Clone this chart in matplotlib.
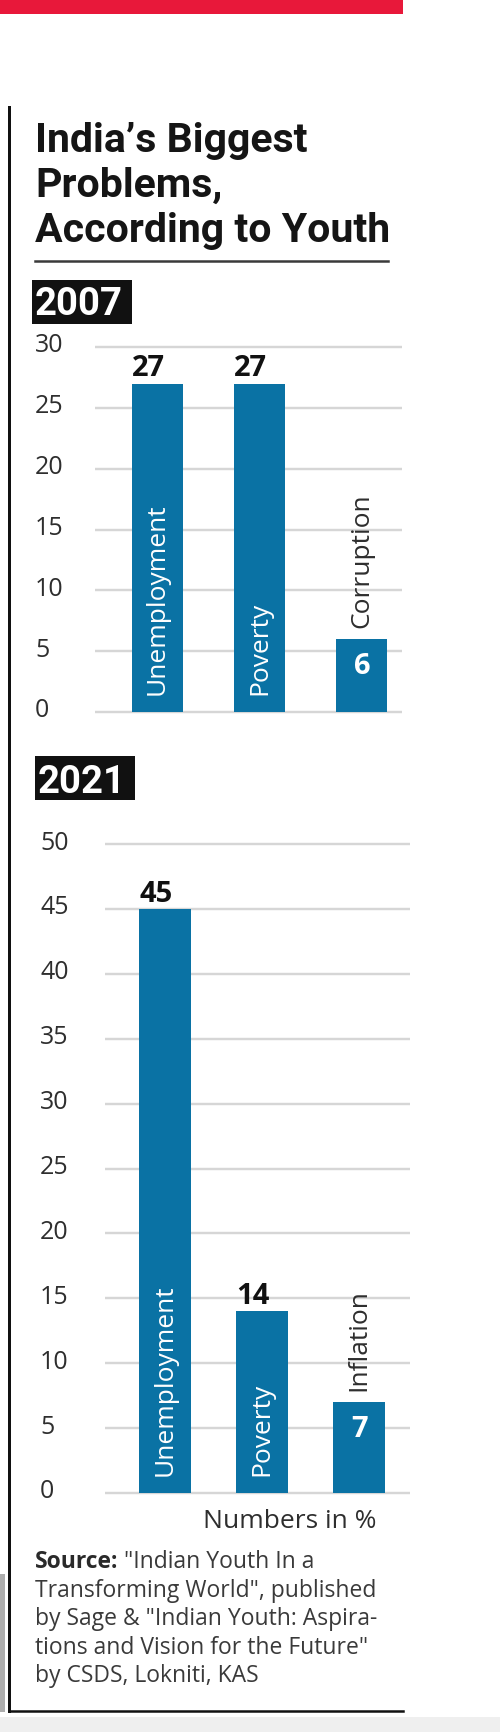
import matplotlib
matplotlib.use("Agg")
import matplotlib.pyplot as plt
from matplotlib.transforms import Affine2D, ScaledTranslation
from matplotlib.patches import Rectangle
from matplotlib.lines import Line2D

# ---------------- data ----------------
title_lines = ["India\u2019s Biggest", "Problems,", "According to Youth"]

year_a = "2007"
cats_a = ["Unemployment", "Poverty", "Corruption"]
vals_a = [27, 27, 6]
ticks_a = [0, 5, 10, 15, 20, 25, 30]

year_b = "2021"
cats_b = ["Unemployment", "Poverty", "Inflation"]
vals_b = [45, 14, 7]
ticks_b = [0, 5, 10, 15, 20, 25, 30, 35, 40, 45, 50]

unit_note = "Numbers in %"
source_head = "Source:"
source_first = " \"Indian Youth In a"
source_rest = [
    "Transforming World\", published",
    "by Sage & \"Indian Youth: Aspira-",
    "tions and Vision for the Future\"",
    "by CSDS, Lokniti, KAS",
]

# ---------------- layout / style ----------------
W, H, DPI = 500, 1733, 100
fig = plt.figure(figsize=(W / DPI, H / DPI), dpi=DPI)
fig.patch.set_facecolor("white")
PX = Affine2D().scale(1 / W, -1 / H).translate(0, 1) + fig.transFigure


def pt(px):
    return px * 72.0 / DPI


BODY = ["Open Sans", "DejaVu Sans"]
HEAD = ["Roboto", "DejaVu Sans"]
BAR = "#0a72a4"
TXT = "#2e2e2e"
GRID = "#d6d6d6"


def panel(vals, cats, ticks, left, right, y0, ytop, c0, step, barw, label_x):
    vmax = ticks[-1]
    ppu = (y0 - ytop) / vmax
    lo, hi = -1.4, vmax + 1.3
    bottom = y0 - lo * ppu
    top = ytop - (hi - vmax) * ppu
    ax = fig.add_axes([left / W, 1 - bottom / H, (right - left) / W, (bottom - top) / H])
    ax.set_ylim(lo, hi)
    ax.set_xlim((left - c0) / step, (right - c0) / step)
    ax.patch.set_alpha(0)
    for s in ax.spines.values():
        s.set_visible(False)
    ax.set_xticks([])
    ax.set_yticks(ticks)
    ax.set_yticklabels([str(t) for t in ticks], fontfamily=BODY, ha="left")
    ax.tick_params(axis="y", length=0, pad=pt(left - label_x), labelsize=18, labelcolor=TXT)
    for t in ax.yaxis.get_major_ticks():
        t.label1.set_transform(t.label1.get_transform()
                               + ScaledTranslation(0, 5 / DPI, fig.dpi_scale_trans))
    ax.grid(axis="y", color=GRID, lw=pt(2.4))
    ax.set_axisbelow(True)

    xs = list(range(len(vals)))
    bars = ax.bar(xs, vals, width=barw / step, color=BAR, zorder=2)
    for rect, v, c in zip(bars, vals, cats):
        xc = rect.get_x() + rect.get_width() / 2
        if v >= 10:
            ax.annotate(str(v), xy=(rect.get_x(), v), xytext=(0, pt(8)),
                        textcoords="offset points", ha="left", va="baseline",
                        fontsize=21, fontweight="bold", color="#111111", family=BODY)
            ax.annotate(c, xy=(xc, 0), xytext=(0, pt(18)), textcoords="offset points",
                        rotation=90, ha="center", va="bottom", fontsize=19,
                        color="white", family=BODY, zorder=3)
        else:
            ax.annotate(str(v), xy=(xc, v), xytext=(0, pt(-12)), textcoords="offset points",
                        ha="center", va="top", fontsize=21, fontweight="bold",
                        color="white", family=BODY, zorder=3)
            ax.annotate(c, xy=(xc, v), xytext=(0, pt(12)), textcoords="offset points",
                        rotation=90, ha="center", va="bottom", fontsize=19,
                        color=TXT, family=BODY)
    return ax


# top red band
fig.add_artist(Rectangle((0, 0), 403, 15, transform=PX, color="#e8183a", lw=0))
# bottom grey strip
fig.add_artist(Rectangle((0, 1718), 500, 15, transform=PX, color="#efefef", lw=0))
fig.add_artist(Rectangle((0, 1575), 5, 138, transform=PX, color="#8a8a8a", lw=0, alpha=0.7))
# frame lines
fig.add_artist(Line2D([9, 9], [108, 1712], transform=PX, color="#111111", lw=pt(3)))
fig.add_artist(Line2D([9, 403], [1712, 1712], transform=PX, color="#111111", lw=pt(2.5)))

# title
for line, base in zip(title_lines, [152, 197, 242]):
    fig.text(35, base, line, transform=PX, ha="left", va="baseline",
             fontsize=29.5, fontweight="bold", color="#151515", family=HEAD)
fig.add_artist(Line2D([35, 388], [262, 262], transform=PX, color="#3a3a3a", lw=pt(2.5)))

# year boxes
for yr, (bx, by, tx, tb) in zip([year_a, year_b], [(32, 281, 35, 315), (35, 757, 38, 793)]):
    fig.add_artist(Rectangle((bx, by), 100, 44, transform=PX, color="#111111", lw=0))
    fig.text(tx, tb, yr, transform=PX, ha="left", va="baseline", fontsize=27.5,
             fontweight="bold", color="white", family=HEAD)

# panels
panel(vals_a, cats_a, ticks_a, left=95, right=402, y0=713, ytop=348,
      c0=157.4, step=102.25, barw=51, label_x=35)
panel(vals_b, cats_b, ticks_b, left=105, right=410, y0=1494, ytop=845,
      c0=165, step=97, barw=52, label_x=40)

# unit note
fig.text(290, 1522, unit_note, transform=PX, ha="center", va="center",
         fontsize=19, color=TXT, family=BODY)

# source
t_head = fig.text(35, 1568, source_head, transform=PX, ha="left", va="baseline",
                  fontsize=16.5, fontweight="bold", color="#2a2a2a", family=BODY)
fig.add_artist(plt.Annotation(source_first, xy=(1, 0), xycoords=t_head, ha="left",
                              va="bottom", fontsize=16.5, color="#3a3a3a", family=BODY,
                              annotation_clip=False))
for i, line in enumerate(source_rest):
    fig.text(35, 1568 + 28.6 * (i + 1), line, transform=PX, ha="left", va="baseline",
             fontsize=16.5, color="#3a3a3a", family=BODY)

fig.savefig("out.png", dpi=DPI, facecolor="white")
